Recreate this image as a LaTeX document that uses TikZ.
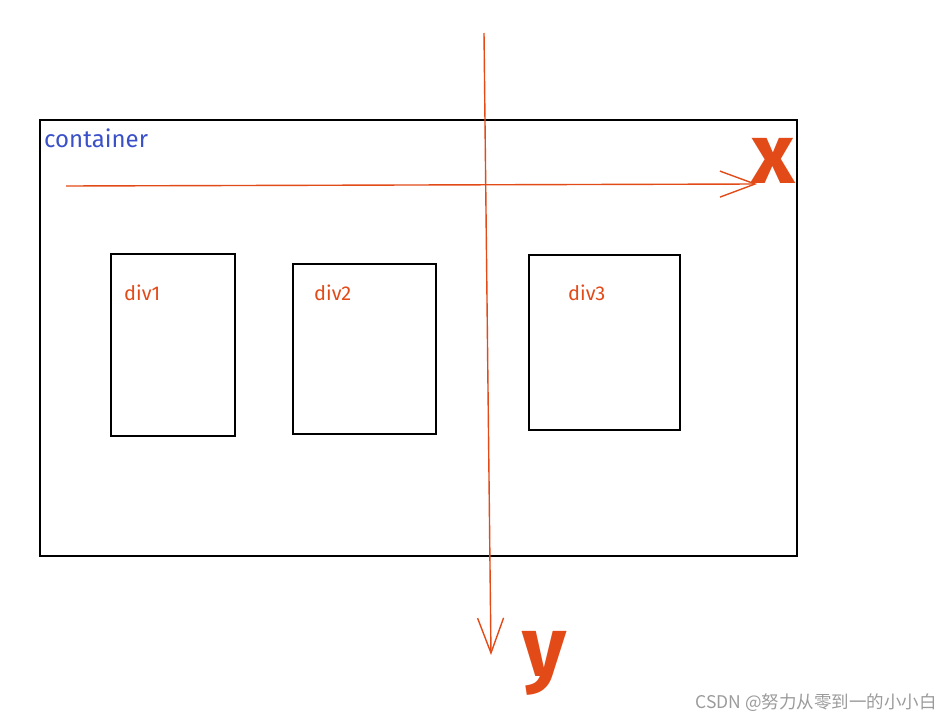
\documentclass[tikz,border=0pt]{standalone}
\usepackage{fontspec}
\setmainfont{Fira Sans}
\newfontfamily\cjkfont{Noto Sans CJK SC}
\usetikzlibrary{arrows.meta}
\definecolor{axisred}{RGB}{226,74,24}
\definecolor{labelblue}{RGB}{58,80,200}
\definecolor{markgray}{RGB}{155,155,155}

\begin{document}
\begin{tikzpicture}[x=1pt,y=-1pt,
    box/.style={draw=black, line width=1.3pt, inner sep=0pt, outer sep=0pt},
    axis/.style={draw=axisred, line width=1.4pt,
      -{Straight Barb[length=35pt,width=26pt,line width=1.4pt]}},
    divlabel/.style={text=axisred, anchor=base west, inner sep=0pt, font=\fontsize{20}{24}\selectfont},
    axislabel/.style={text=axisred, anchor=base, inner sep=0pt, font=\fontsize{85}{85}\selectfont\bfseries}]
  \useasboundingbox (0,0) rectangle (952,722);

  %Container
  \node[box, minimum width=757pt, minimum height=436pt] (container) at (418.5,338) {};
  \node[text=labelblue, anchor=base west, inner sep=0pt, font=\fontsize{24}{28}\selectfont] (containerlabel) at (44,148) {container};

  %Divs
  \node[box, minimum width=124pt, minimum height=182pt] (div1) at (173,345) {};
  \node[box, minimum width=143pt, minimum height=170pt] (div2) at (364.5,349) {};
  \node[box, minimum width=151pt, minimum height=175pt] (div3) at (604.5,342.5) {};
  \node[divlabel] (div1label) at (124,300) {div1};
  \node[divlabel] (div2label) at (314,300) {div2};
  \node[divlabel] (div3label) at (568,300) {div3};

  %Ejes
  \coordinate (xstart) at (66,186);
  \coordinate (xend) at (757,184);
  \coordinate (ystart) at (484,33);
  \coordinate (yend) at (491,655);
  \draw[axis] (xstart) -- (xend);
  \draw[axis] (ystart) -- (yend);
  \node[axislabel] (xlabel) at (773,183) {x};
  \node[axislabel] (ylabel) at (545,676) {y};

  %Marca
  \node[text=markgray, anchor=east, inner sep=0pt, font=\cjkfont\fontsize{17.5}{21}\selectfont] (watermark) at (937,703) {CSDN @努力从零到一的小小白};
\end{tikzpicture}
\end{document}
